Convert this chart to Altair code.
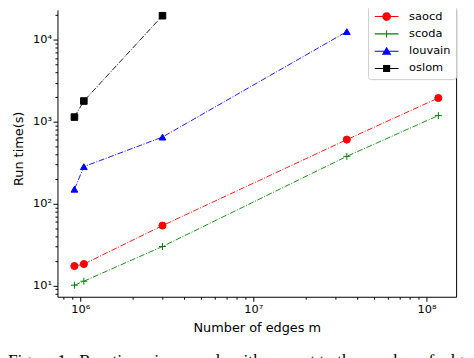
import altair as alt
import pandas as pd

# ---- data ----
edges = [925872, 1049866, 2987624, 34681189, 117185083]
algorithms = ["saocd", "scoda", "louvain", "oslom"]
saocd = [17.3, 18.3, 54.0, 605.0, 1950.0]
scoda = [10.1, 11.3, 30.0, 378.0, 1190.0]
louvain = [150.0, 283.0, 650.0, 12600.0]
oslom = [1140.0, 1790.0, 19700.0]

colors = ["#ff0000", "#008000", "#0000ff", "#000000"]

x_major = [1e6, 1e7, 1e8]
x_major_labels = ["10⁶", "10⁷", "10⁸"]
x_minor = [8e5, 9e5, 2e6, 3e6, 4e6, 5e6, 6e6, 7e6, 8e6, 9e6,
           2e7, 3e7, 4e7, 5e7, 6e7, 7e7, 8e7, 9e7]
y_major = [10, 100, 1000, 10000]
y_major_labels = ["10¹", "10²", "10³", "10⁴"]
y_minor = [8, 9, 20, 30, 40, 50, 60, 70, 80, 90,
           200, 300, 400, 500, 600, 700, 800, 900,
           2000, 3000, 4000, 5000, 6000, 7000, 8000, 9000, 20000]

x_title = "Number of edges m"
y_title = "Run time(s)"
caption = ["Figure 1.", "Run times in seconds with respect to the number of edges"]

rows = []
for name, vals in zip(algorithms, [saocd, scoda, louvain, oslom]):
    for e, v in zip(edges, vals):
        rows.append({"alg": name, "edges": e, "time": v})
df = pd.DataFrame(rows)


def label_expr(values, labels):
    expr = "''"
    for v, l in reversed(list(zip(values, labels))):
        expr = f"datum.value == {v:.0f} ? '{l}' : ({expr})"
    return expr


FONT = "DejaVu Sans"
xscale = alt.Scale(type="log", domain=[7.39e5, 1.484e8], nice=False)
yscale = alt.Scale(type="log", domain=[7.30, 23200], nice=False)
cscale = alt.Scale(domain=algorithms, range=colors)

common_axis = dict(grid=False, tickColor="black", domainColor="black",
                   labelFont=FONT, labelColor="black", labelFontSize=11.5,
                   titleFont=FONT, titleColor="black", titleFontSize=13,
                   titleFontWeight="normal", labelFlush=False, labelOverlap=False)

x_major_axis = alt.Axis(orient="bottom", values=x_major,
                        labelExpr=label_expr(x_major, x_major_labels),
                        tickSize=4.5, labelPadding=2, title=x_title,
                        titleY=31, titleBaseline="middle", domainWidth=1,
                        **common_axis)
y_major_axis = alt.Axis(orient="left", values=y_major,
                        labelExpr=label_expr(y_major, y_major_labels),
                        tickSize=4.5, labelPadding=1.5, title=y_title,
                        titleX=-39, titleY=140, titleAngle=-90,
                        titleBaseline="middle", titleAlign="center",
                        **common_axis)
x_minor_axis = alt.Axis(orient="bottom", values=x_minor, labels=False,
                        tickSize=2.5, domain=False, title=None, grid=False,
                        tickColor="black")
y_minor_axis = alt.Axis(orient="left", values=y_minor, labels=False,
                        tickSize=2.5, domain=False, title=None, grid=False,
                        tickColor="black")
right_spine = alt.Axis(orient="right", ticks=False, labels=False, title=None,
                       grid=False, domainColor="black")

lines = alt.Chart(df).mark_line(strokeWidth=0.9, strokeDash=[6, 1.6, 1, 1.6]).encode(
    x=alt.X("edges:Q", scale=xscale, axis=x_major_axis),
    y=alt.Y("time:Q", scale=yscale, axis=y_major_axis),
    color=alt.Color("alg:N", scale=cscale, legend=None),
)

marker_shapes = ["circle", "M-1,0H1M0,-1V1", "triangle-up", "square"]
marker_sizes = [52, 44, 58, 42]
points = alt.Chart(df).mark_point(opacity=1, strokeWidth=1).encode(
    x=alt.X("edges:Q", scale=xscale, axis=x_minor_axis),
    y=alt.Y("time:Q", scale=yscale, axis=y_minor_axis),
    shape=alt.Shape("alg:N", scale=alt.Scale(domain=algorithms, range=marker_shapes), legend=None),
    fill=alt.Fill("alg:N", scale=cscale, legend=None),
    stroke=alt.Stroke("alg:N", scale=cscale, legend=None),
    size=alt.Size("alg:N", scale=alt.Scale(domain=algorithms, range=marker_sizes), legend=None),
)

# legend symbols: line segment with marker drawn through it
legend_shapes = [
    "M-1,-0.13H5V0.13H-1Z M3.1,0A1.1,1.1 0 1,1 0.9,0A1.1,1.1 0 1,1 3.1,0Z",
    "M-1,-0.13H5V0.13H-1Z M1.87,-0.9H2.13V0.9H1.87Z",
    "M-1,-0.13H5V0.13H-1Z M2,-1.1L3.2,0.9H0.8Z",
    "M-1,-0.13H5V0.13H-1Z M1.1,-0.9H2.9V0.9H1.1Z",
]
leg = alt.Legend(orient="none", legendX=314, legendY=-4, title=None,
                 padding=5, fillColor="white", strokeColor="#cccccc",
                 cornerRadius=3, labelFont=FONT, labelFontSize=11.5,
                 labelColor="black", symbolSize=64, symbolStrokeWidth=0,
                 labelOffset=25, rowPadding=4.5)
legend_layer = alt.Chart(df).transform_filter("datum.time < 0").mark_point(
    filled=True, opacity=1).encode(
    x=alt.X("edges:Q", scale=xscale, axis=None),
    y=alt.Y("time:Q", scale=yscale, axis=right_spine),
    color=alt.Color("alg:N", scale=cscale, legend=leg),
    shape=alt.Shape("alg:N", scale=alt.Scale(domain=algorithms, range=legend_shapes), legend=leg),
)

cap1 = alt.Chart(pd.DataFrame({"t": [caption[0]]})).mark_text(
    font="Liberation Serif", fontSize=17.5, align="left", baseline="alphabetic",
    color="black").encode(x=alt.value(-50), y=alt.value(360), text="t:N")
cap2 = alt.Chart(pd.DataFrame({"t": [caption[1]]})).mark_text(
    font="Liberation Serif", fontSize=17.5, align="left", baseline="alphabetic",
    color="black").encode(x=alt.value(22), y=alt.value(360), text="t:N")

chart = alt.layer(lines, points, legend_layer, cap1, cap2).resolve_scale(
    color="independent", shape="independent"
).resolve_axis(x="independent", y="independent").properties(
    width=403, height=290,
    autosize=alt.AutoSizeParams(type="none"),
    padding={"left": 50, "top": 0, "right": 10, "bottom": 60},
    background="white",
).configure_view(stroke=None)

chart.save("out.html", embed_options={"renderer": "svg", "actions": False})
